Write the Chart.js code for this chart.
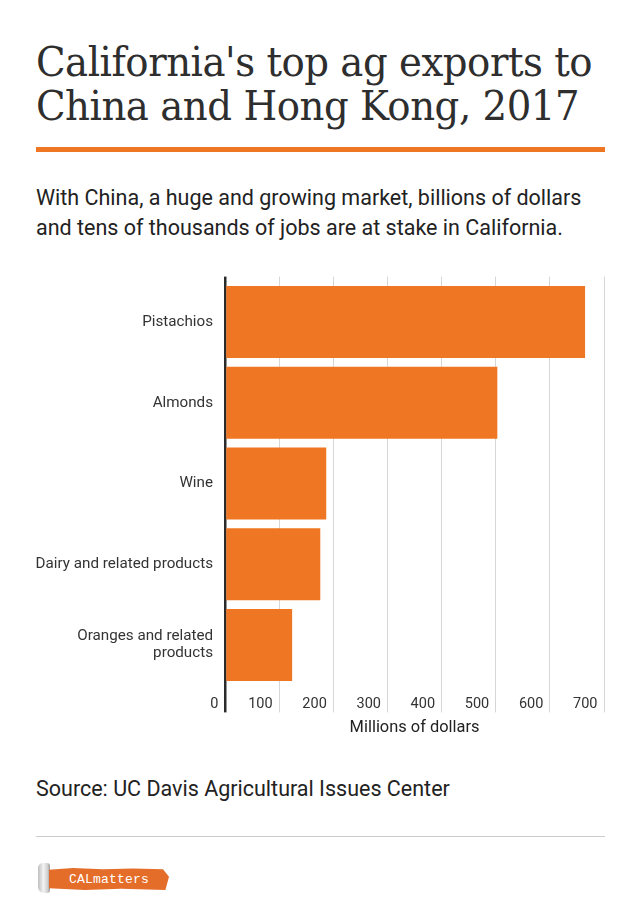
<!DOCTYPE html>
<html>
<head>
<meta charset="utf-8">
<script src="https://cdn.jsdelivr.net/npm/chart.js@4.4.1/dist/chart.umd.min.js"></script>
<style>
  html, body { margin:0; padding:0; background:#fff; }
  body { width:640px; height:920px; position:relative; overflow:hidden; font-family: Roboto, "Liberation Sans", sans-serif; color:#222; }
  #title { position:absolute; left:36px; top:39.5px; width:640px; font-family:"DejaVu Serif", serif; font-size:40.5px; line-height:44px; color:#2e2e2e; letter-spacing:-0.5px; transform:scaleX(0.955); transform-origin:0 0; white-space:nowrap; }
  #rule { position:absolute; left:36px; top:147px; width:569px; height:5px; background:#ef7622; }
  #sub { position:absolute; left:36px; top:183px; width:600px; font-size:21.5px; line-height:30px; color:#222; white-space:nowrap; }
  #wrap { position:absolute; left:0; top:260px; width:640px; height:480px; }
  #source { position:absolute; left:36px; top:775.5px; font-size:21.5px; line-height:26px; color:#222; }
  #grule { position:absolute; left:36px; top:836px; width:569px; height:1px; background:#ccc; }
  #logo { position:absolute; left:36px; top:862px; width:134px; height:34px; }
  #curl { position:absolute; left:2px; top:1px; width:12px; height:30px; border-radius:5px 3px 3px 6px; background:linear-gradient(90deg,#bdbdbd,#f4f4f4 45%,#cfcfcf 80%,#9a9a9a); }
  #band { position:absolute; left:13px; top:6px; width:120px; height:22px; background:#e56d2a; clip-path:polygon(0 8%,20% 0,45% 6%,70% 2%,95% 6%,100% 40%,97% 100%,60% 94%,30% 100%,0 92%); }
  #ltxt { position:absolute; left:33px; top:10px; font-family:"Liberation Mono","DejaVu Sans Mono",monospace; font-size:13px; color:#fff; letter-spacing:0.2px; }
</style>
</head>
<body>
<div id="title">California's top ag exports to<br>China and Hong Kong, 2017</div>
<div id="rule"></div>
<div id="sub">With China, a huge and growing market, billions of dollars<br>and tens of thousands of jobs are at stake in California.</div>
<div id="wrap"><canvas id="c" width="640" height="480"></canvas></div>
<div id="source">Source: UC Davis Agricultural Issues Center</div>
<div id="grule"></div>
<div id="logo"><div id="curl"></div><div id="band"></div><div id="ltxt">CALmatters</div></div>
<script>
const categories = ["Pistachios", "Almonds", "Wine", "Dairy and related products", ["Oranges and related", "products"]];
const exportValues = [665, 503, 187, 176, 124];
const tickValues = [0, 100, 200, 300, 400, 500, 600, 700];
const axisTitle = "Millions of dollars";

const gridColor = ctx => (ctx.tick && ctx.tick.value === 0) ? '#2b2b2b' : '#d6d6d6';
const gridWidth = ctx => (ctx.tick && ctx.tick.value === 0) ? 2.5 : 1;

new Chart(document.getElementById('c'), {
  type: 'bar',
  data: {
    labels: categories,
    datasets: [{
      data: exportValues,
      backgroundColor: '#ef7622',
      borderWidth: 0,
      categoryPercentage: 1,
      barPercentage: 0.892
    }]
  },
  options: {
    indexAxis: 'y',
    responsive: false,
    animation: false,
    layout: { padding: { top: 16.6, right: 36, left: 0, bottom: 0 } },
    plugins: { legend: { display: false }, tooltip: { enabled: false } },
    scales: {
      x: {
        type: 'linear', position: 'bottom', min: 0, max: 700,
        afterBuildTicks: s => { s.ticks = tickValues.map(v => ({ value: v })); },
        afterFit: s => { s.height = 54.6; },
        border: { display: false },
        grid: { color: gridColor, lineWidth: gridWidth, tickColor: gridColor, tickWidth: gridWidth, tickLength: 27, drawTicks: true },
        ticks: { align: 'end', labelOffset: -6.5, padding: -16.5, color: '#333', font: { family: 'Roboto', size: 14.5 } },
        title: { display: true, text: axisTitle, color: '#222', font: { family: 'Roboto', size: 16.4 }, padding: { top: 0, bottom: 2.2 } }
      },
      x2: {
        type: 'linear', position: 'top', min: 0, max: 700,
        afterBuildTicks: s => { s.ticks = tickValues.map(v => ({ value: v })); },
        afterFit: s => { s.height = 5; s.paddingLeft = 0; s.paddingRight = 0; },
        border: { display: false },
        grid: { drawOnChartArea: false, color: gridColor, lineWidth: gridWidth, tickColor: gridColor, tickWidth: gridWidth, tickLength: 5 },
        ticks: { display: false }
      },
      y: {
        type: 'category',
        afterFit: s => { s.width = 225; s.paddingTop = 0; s.paddingBottom = 0; },
        border: { display: false },
        grid: { display: false, drawTicks: false },
        ticks: { padding: 12, color: '#333', font: { family: 'Roboto', size: 15.2, lineHeight: 1.14 } }
      }
    }
  }
});
</script>
</body>
</html>
